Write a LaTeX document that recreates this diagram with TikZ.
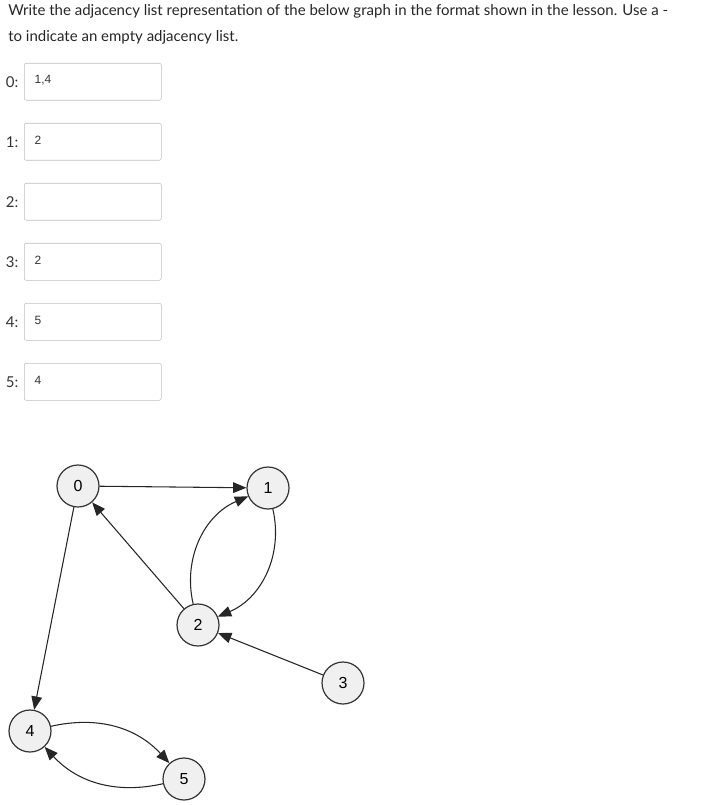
\documentclass[tikz,border=0pt]{standalone}
\usepackage{fontspec}
\setmainfont{Lato}
\usetikzlibrary{arrows.meta}
\begin{document}
\begin{tikzpicture}[x=0.75pt,y=-0.75pt,
  vert/.style={circle,draw=black!80,fill=black!6,line width=0.9pt,minimum size=31.5pt,inner sep=0pt,font=\fontspec{Liberation Sans}\fontsize{12}{14}\selectfont},
  edge/.style={draw=black!85,line width=0.8pt,-{Triangle[length=10pt,width=8pt]}},
  ansbox/.style={draw=black!25,rounded corners=1.5pt,minimum width=102.75pt,minimum height=27.75pt,anchor=north west,inner sep=0pt},
  lbl/.style={font=\fontsize{11.25}{13}\selectfont,text=black!80,anchor=east},
  val/.style={font=\fontspec{Liberation Sans}\fontsize{9}{11}\selectfont,text=black!80,anchor=west}]
\useasboundingbox (0,0) rectangle (721,805);
\node[anchor=north west,align=left,font=\fontsize{11.25}{19.5}\selectfont,text=black!85,inner sep=0pt] (q) at (8,4)
 {Write the adjacency list representation of the below graph in the format shown in the lesson. Use a -\\to indicate an empty adjacency list.};
\foreach \i/\v in {0/{1,4},1/2,2/{},3/2,4/5,5/4}{
  \node[ansbox] (b\i) at (24,63+60*\i) {};
  \node[lbl] (l\i) at (23,82+60*\i) {\i:};
  \node[val] (v\i) at (30,80+60*\i) {\v};
}
\node[vert] (n0) at (78,486) {0};
\node[vert] (n1) at (268,488) {1};
\node[vert] (n2) at (198,625) {2};
\node[vert] (n3) at (343,683) {3};
\node[vert] (n4) at (30,731) {4};
\node[vert] (n5) at (184,779) {5};
\draw[edge] (n0) -- (n1);
\draw[edge] (n2) -- (n0);
\draw[edge] (n2) to[bend left=40] (n1);
\draw[edge] (n1) to[bend left=40] (n2);
\draw[edge] (n3) -- (n2);
\draw[edge] (n0) -- (n4);
\draw[edge] (n4) to[bend left=30] (n5);
\draw[edge] (n5) to[bend left=30] (n4);
\end{tikzpicture}
\end{document}
